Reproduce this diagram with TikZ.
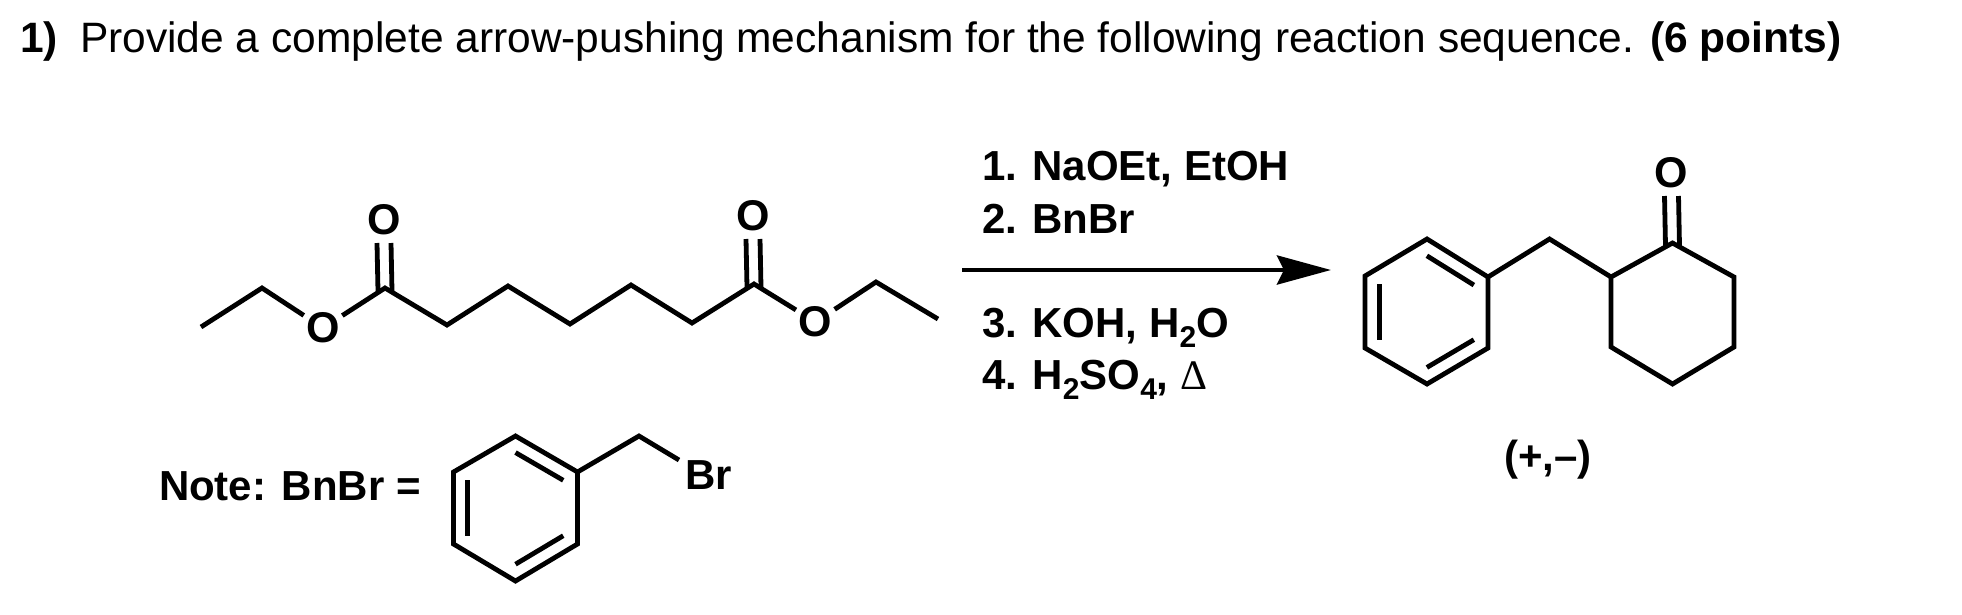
\documentclass[tikz,border=0pt]{standalone}
\usepackage{fontspec}
\setmainfont{Liberation Sans}
\newfontfamily\deltafont{Liberation Serif}
\usetikzlibrary{arrows.meta,calc}
\newcommand{\chemsub}[1]{\raisebox{-10pt}{\fontsize{30}{32}\selectfont #1}}
\tikzset{
  bond/.style={line width=4.8pt,line join=miter,line cap=butt},
  inbond/.style={line width=4.8pt,line cap=butt},
  atom/.style={circle,minimum size=46pt,inner sep=0pt,outer sep=0pt,font=\fontsize{43}{50}\selectfont\bfseries},
  chemtext/.style={anchor=base west,inner sep=0pt,outer sep=0pt,font=\fontsize{42}{50}\selectfont\bfseries},
  titletext/.style={anchor=base west,inner sep=0pt,outer sep=0pt,font=\fontsize{42.5}{50}\selectfont},
}
\begin{document}
\begin{tikzpicture}[x=1pt,y=-1pt]
\useasboundingbox (0,0) rectangle (1962,614);
\node[titletext,font=\fontsize{42.5}{50}\selectfont\bfseries] (num) at (20,52) {1)};
\node[titletext] (ask) at (80,52) {Provide a complete arrow-pushing mechanism for the following reaction sequence.};
\node[titletext,font=\fontsize{42.5}{50}\selectfont\bfseries] (pts) at (1650,52) {(6 points)};
\foreach \n/\x/\y in {1/201/327,2/262/288,3/385/288,4/447/325,5/508/286,6/570/324,7/631/285,8/692/323,9/754/284,10/876/282,11/938/319}
\coordinate (a\n) at (\x,\y);
\node[atom] (o1) at (323,328) {O};
\node[atom] (o2) at (384,220) {O};
\node[atom] (o3) at (815.5,322) {O};
\node[atom] (o4) at (753,216) {O};
\draw[bond] (a1) -- (a2) -- (o1);
\draw[bond] (o1) -- (a3) -- (a4) -- (a5) -- (a6) -- (a7) -- (a8) -- (a9) -- (o3);
\draw[bond] (o3) -- (a10) -- (a11);
\foreach \c/\o in {a3/o2,a9/o4}{
\draw[bond] ([shift={(-7pt,-3pt)}]\c) -- ([xshift=-7pt]\o.south);
\draw[bond] ([shift={(7pt,-3pt)}]\c) -- ([xshift=7pt]\o.south);
}
\coordinate (start) at (962,270);
\coordinate (end) at (1331,270);
\draw[line width=4.8pt,-{Stealth[length=54pt,width=29pt,inset=7pt]}] (start) -- (end);
\node[chemtext] (r1) at (982,180) {1. NaOEt, EtOH};
\node[chemtext] (r2) at (982,233) {2. BnBr};
\node[chemtext] (r3) at (982,337) {3. KOH, H\chemsub{2}O};
\node[chemtext] (r4) at (982,389) {4. H\chemsub{2}SO\chemsub{4}, {\deltafont\mdseries Δ}};
\foreach \n/\x/\y in {1/1427/239,2/1488/277,3/1488/348,4/1427/384,5/1365/348,6/1365/276}
\coordinate (p\n) at (\x,\y);
\coordinate (pc) at (1426.5,312);
\foreach \n/\x/\y in {1/1611/277,2/1672.5/243,3/1734/277,4/1734/347,5/1672.5/384,6/1611/347}
\coordinate (q\n) at (\x,\y);
\coordinate (pm) at (1549.5,239);
\node[atom] (o5) at (1671.5,173) {O};
\draw[bond] (p1) -- (p2) -- (p3) -- (p4) -- (p5) -- (p6) -- cycle;
\draw[bond] (q1) -- (q2) -- (q3) -- (q4) -- (q5) -- (q6) -- cycle;
\draw[bond] (p2) -- (pm) -- (q1);
\foreach \s/\e in {p1/p2,p3/p4,p5/p6}
\draw[inbond] ($(\s)!.23!(pc)$) -- ($(\e)!.23!(pc)$);
\draw[bond] ([shift={(-7pt,-3pt)}]q2) -- ([xshift=-7pt]o5.south);
\draw[bond] ([shift={(7pt,-3pt)}]q2) -- ([xshift=7pt]o5.south);
\node[chemtext,anchor=base] (rac) at (1548,470) {(+,–)};
\node[chemtext] (note) at (159,500) {Note: BnBr =};
\foreach \n/\x/\y in {1/515.5/436,2/577.5/472,3/577.5/544,4/515.5/581,5/453.5/544,6/453.5/472}
\coordinate (b\n) at (\x,\y);
\coordinate (bc) at (515.5,508);
\coordinate (bm) at (639,436);
\node[chemtext] (br) at (685,489) {Br};
\coordinate (brend) at (679,460);
\draw[bond] (b1) -- (b2) -- (b3) -- (b4) -- (b5) -- (b6) -- cycle;
\draw[bond] (b2) -- (bm) -- (brend);
\foreach \s/\e in {b1/b2,b3/b4,b5/b6}
\draw[inbond] ($(\s)!.23!(bc)$) -- ($(\e)!.23!(bc)$);
\end{tikzpicture}
\end{document}
